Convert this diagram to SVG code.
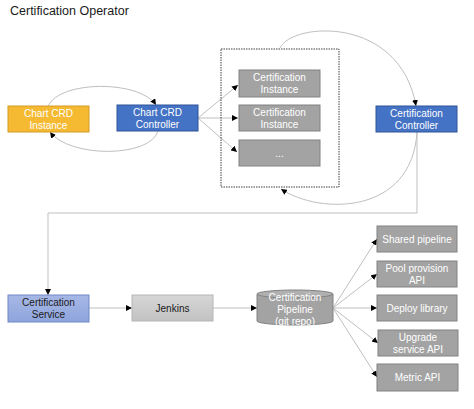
<svg xmlns="http://www.w3.org/2000/svg" width="474" height="409" viewBox="0 0 474 409">
<defs>
<marker id="arr" viewBox="0 0 10 10" refX="10" refY="5" markerWidth="6" markerHeight="6" markerUnits="userSpaceOnUse" orient="auto">
<path d="M0,0 L10,5 L0,10 Z" fill="#000"/>
</marker>
<linearGradient id="gSvc" x1="0" y1="0" x2="0" y2="1">
<stop offset="0" stop-color="#A7B8E6"/><stop offset="1" stop-color="#8EA4DC"/>
</linearGradient>
<linearGradient id="gJen" x1="0" y1="0" x2="0" y2="1">
<stop offset="0" stop-color="#D6D6D6"/><stop offset="1" stop-color="#C2C2C2"/>
</linearGradient>
</defs>
<style>
text{font-family:"Liberation Sans",Arial,sans-serif;font-size:10px;text-anchor:middle}
.w{fill:#fff}
.d{fill:#1a1a1a}
.gray{fill:#A3A3A3;stroke:#828282;stroke-width:1}
.blue{fill:#4472C4;stroke:#2F5597;stroke-width:1}
.conn path,.conn line{fill:none;stroke:#BFBFBF;stroke-width:1}
.ar{marker-end:url(#arr)}
</style>
<rect width="474" height="409" fill="#fff"/>
<text x="10" y="15" style="font-size:12.5px;text-anchor:start" fill="#1a1a1a">Certification Operator</text>

<g class="conn">
<path class="ar" d="M48,106 C60,80 140,80 156,105"/>
<path class="ar" d="M158,131 C150,158 70,158 50,132"/>
<line class="ar" x1="198" y1="118" x2="238" y2="85"/>
<line class="ar" x1="198" y1="118" x2="238" y2="118"/>
<line class="ar" x1="198" y1="118" x2="237" y2="152"/>
<path class="ar" d="M280,48 C292,22 400,15 416,106"/>
<path class="ar" d="M417,132 C412,215 320,215 281,189"/>
<path class="ar" d="M417,132 L417,213 L48,213 L48,295"/>
<line class="ar" x1="89" y1="308" x2="132" y2="308"/>
<line class="ar" x1="213" y1="308" x2="257" y2="308"/>
<line class="ar" x1="333" y1="308" x2="377" y2="239"/>
<line class="ar" x1="333" y1="308" x2="377" y2="274"/>
<line class="ar" x1="333" y1="308" x2="377" y2="308"/>
<line class="ar" x1="333" y1="308" x2="378" y2="343"/>
<line class="ar" x1="333" y1="308" x2="377" y2="377"/>
</g>

<g id="chart-crd-instance">
<rect x="8" y="106" width="81" height="26" fill="#F5B932" stroke="#D29B2A"/>
<text class="w" x="48.5" y="117">Chart CRD</text>
<text class="w" x="48.5" y="129">Instance</text>
</g>
<g id="chart-crd-controller">
<rect class="blue" x="117" y="105" width="81" height="26"/>
<text class="w" x="157.5" y="116">Chart CRD</text>
<text class="w" x="157.5" y="128">Controller</text>
</g>

<g id="instance-group">
<rect x="221" y="49" width="118" height="138" fill="none" stroke="#404040" stroke-width="1" stroke-dasharray="1.5,1"/>
</g>
<g id="cert-instance-1">
<rect class="gray" x="239" y="70" width="81" height="27"/>
<text class="w" x="279.5" y="81">Certification</text>
<text class="w" x="279.5" y="93">Instance</text>
</g>
<g id="cert-instance-2">
<rect class="gray" x="239" y="105" width="81" height="26"/>
<text class="w" x="279.5" y="116">Certification</text>
<text class="w" x="279.5" y="128">Instance</text>
</g>
<g id="cert-instance-more">
<rect class="gray" x="239" y="140" width="81" height="26"/>
<text class="w" x="279.5" y="157">...</text>
</g>

<g id="certification-controller">
<rect class="blue" x="376" y="106" width="81" height="26"/>
<text class="w" x="416.5" y="117">Certification</text>
<text class="w" x="416.5" y="129">Controller</text>
</g>

<g id="certification-service">
<rect x="8" y="295" width="81" height="27" fill="url(#gSvc)" stroke="#7088C8"/>
<text class="d" x="48.5" y="306">Certification</text>
<text class="d" x="48.5" y="318">Service</text>
</g>
<g id="jenkins">
<rect x="132" y="295" width="81" height="26" fill="url(#gJen)" stroke="#B5B5B5"/>
<text class="d" x="172.5" y="311.5">Jenkins</text>
</g>

<g id="certification-pipeline">
<path d="M257,294 L257,321 A38,4 0 0 0 333,321 L333,294" fill="#A3A3A3" stroke="#828282"/>
<ellipse cx="295" cy="294" rx="38" ry="4" fill="#B0B0B0" stroke="#828282"/>
<text class="w" x="295" y="301">Certification</text>
<text class="w" x="295" y="313">Pipeline</text>
<text class="w" x="295" y="325">(git repo)</text>
</g>

<g id="shared-pipeline">
<rect class="gray" x="377" y="226" width="80" height="26"/>
<text class="w" x="417" y="242.5">Shared pipeline</text>
</g>
<g id="pool-provision-api">
<rect class="gray" x="377" y="261" width="80" height="26"/>
<text class="w" x="417" y="272">Pool provision</text>
<text class="w" x="417" y="284">API</text>
</g>
<g id="deploy-library">
<rect class="gray" x="377" y="295" width="80" height="26"/>
<text class="w" x="417" y="311.5">Deploy library</text>
</g>
<g id="upgrade-service-api">
<rect class="gray" x="378" y="330" width="80" height="26"/>
<text class="w" x="418" y="341">Upgrade</text>
<text class="w" x="418" y="353">service API</text>
</g>
<g id="metric-api">
<rect class="gray" x="377" y="364" width="81" height="27"/>
<text class="w" x="417.5" y="380.5">Metric API</text>
</g>
</svg>
